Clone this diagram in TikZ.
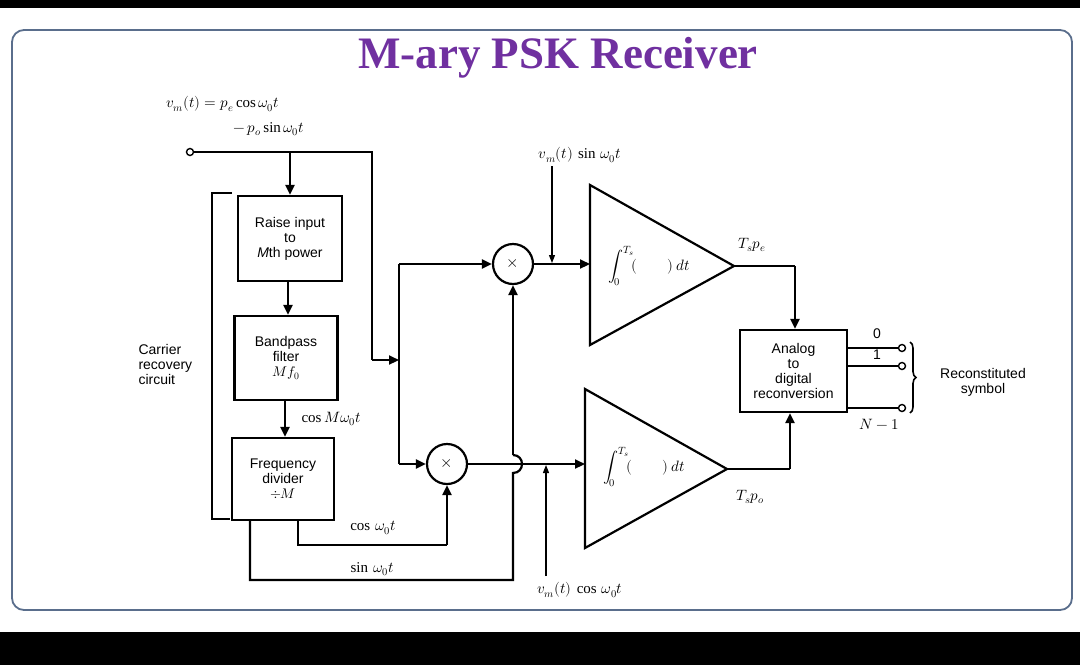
\documentclass[tikz,border=0pt]{standalone}
\usepackage{unicode-math}
\setmainfont{Liberation Serif}
\setmathfont{Latin Modern Math}
\newfontfamily\sansf{Liberation Sans}
\usetikzlibrary{arrows.meta,decorations.pathreplacing}
\definecolor{ttl}{RGB}{112,48,160}
\definecolor{frm}{RGB}{90,110,140}
\begin{document}
\begin{tikzpicture}[x=1pt,y=-1pt,
  ln/.style={line width=2.2pt},
  ar/.style={ln,-{Triangle[length=10pt,width=9pt]}},
  box/.style={draw,line width=2.2pt,font=\sansf\fontsize{14}{15}\selectfont,align=center,inner sep=0pt,minimum width=#1},
  mult/.style={draw,circle,line width=2.2pt,minimum size=40pt,inner sep=0pt,font=\fontsize{16}{16}\selectfont},
  term/.style={draw,circle,line width=1.4pt,minimum size=7pt,inner sep=0pt,fill=white},
  lab/.style={font=\fontsize{15}{16}\selectfont},
  sflab/.style={font=\sansf\fontsize{14}{15}\selectfont,align=center}]
\fill[black] (0,0) rectangle (1080,665);
\fill[white] (0,8) rectangle (1080,632);
\draw[frm,line width=1.8pt,rounded corners=12pt] (12,30) rectangle (1072,610);
\useasboundingbox (0,0) rectangle (1080,665);
\node[ttl,font=\bfseries\fontsize{45}{46}\selectfont] (title) at (558,58) {M-ary PSK Receiver};
\node[lab,anchor=west] (eq1) at (163,104) {$v_m(t)=p_e\cos\omega_0 t$};
\node[lab,anchor=west] (eq2) at (230,129) {$-\,p_o\sin\omega_0 t$};
% boxes
\node[box=104pt,minimum height=85pt] (b1) at (290,238.5) {Raise input\\to\\\textit{M}th power};
\node[box=103pt,minimum height=84pt] (b2) at (286,358) {Bandpass\\filter\\$Mf_0$};
\node[box=102pt,minimum height=82pt] (b3) at (283,479) {Frequency\\divider\\$\div M$};
\node[term] (in) at (190,152) {};
\coordinate (j1) at (290,152);
\coordinate (c1) at (372,152);
\coordinate (c2) at (372,360);
\coordinate (v1) at (399,360);
\draw[ln] (in) -- (j1) -- (c1) -- (c2);
\draw[ar] (c2) -- (v1);
\draw[ar] (j1) -- (b1.north);
\coordinate (a2) at (288,0);
\draw[ar] (a2 |- b1.south) -- (a2 |- b2.north);
\coordinate (a3) at (285,0);
\draw[ar] (a3 |- b2.south) -- (a3 |- b3.north);
\node[lab,anchor=west] (cm) at (298,419) {$\cos M\omega_0 t$};
% bracket
\draw[ln] (232,193) -- (212,193) -- (212,519) -- (230,519);
\node[sflab,align=left,anchor=west] (crc) at (135,364) {Carrier\\recovery\\circuit};
% multipliers
\node[mult] (m1) at (513,264) {$\times$};
\node[mult] (m2) at (447,464) {$\times$};
\coordinate (va) at (399,264);
\coordinate (vb) at (399,464);
\draw[ln] (va) -- (vb);
\draw[ar] (va) -- (m1.west);
\draw[ar] (vb) -- (m2.west);
% triangles
\coordinate (t1a) at (590,185); \coordinate (t1b) at (590,345); \coordinate (t1c) at (734,266);
\coordinate (t2a) at (585,389); \coordinate (t2b) at (585,548); \coordinate (t2c) at (727,469);
\draw[ln] (t1a) -- (t1c) -- (t1b) -- cycle;
\draw[ln] (t2a) -- (t2c) -- (t2b) -- cycle;
\node[lab] (i1) at (649,266) {$\displaystyle\int_0^{T_s}\!(\qquad)\,dt$};
\node[lab] (i2) at (644,467) {$\displaystyle\int_0^{T_s}\!(\qquad)\,dt$};
\coordinate (t1in) at (590,264);
\coordinate (t2in) at (585,464);
\draw[ar] (m1.east) -- (t1in);
\draw[ar] (m2.east) -- (t2in);
% injections
\node[lab] (sinl) at (580,155) {$v_m(t)\,\sin\,\omega_0 t$};
\node[lab] (cosl) at (580,590) {$v_m(t)\,\cos\,\omega_0 t$};
\coordinate (s1) at (552,166); \coordinate (s2) at (552,263);
\coordinate (k1) at (546,576); \coordinate (k2) at (546,465);
\draw[line width=1.3pt,-{Triangle[length=8pt,width=6pt]}] (s1) -- (s2);
\draw[line width=1.3pt,-{Triangle[length=8pt,width=6pt]}] (k1) -- (k2);
% cos / sin feedback
\coordinate (cA) at (298,520); \coordinate (cB) at (298,545); \coordinate (cC) at (447,545);
\draw[ln] (cA) -- (cB) -- (cC);
\draw[ar] (cC) -- (m2.south);
\node[lab] (cosw) at (373,528) {$\cos\,\omega_0 t$};
\coordinate (sA) at (250,520); \coordinate (sB) at (250,580);
\coordinate (sC) at (513,580);
\coordinate (h1) at (513,473);
\coordinate (h2) at (513,455);
\draw[ln] (sA) -- (sB) -- (sC) -- (h1) .. controls (525,473) and (525,455) .. (h2);
\draw[ar] (h2) -- (m1.south);
\node[lab] (sinw) at (372,569) {$\sin\,\omega_0 t$};
% ADC
\node[box=107pt,minimum height=82pt] (adc) at (793.5,371) {Analog\\to\\digital\\reconversion};
\coordinate (p1) at (795,266); \coordinate (p2) at (790,469);
\draw[ln] (t1c) -- (p1);
\draw[ar] (p1) -- (adc.north -| p1);
\draw[ln] (t2c) -- (p2);
\draw[ar] (p2) -- (adc.south -| p2);
\node[lab] (tpe) at (752,245) {$T_s p_e$};
\node[lab] (tpo) at (750,497) {$T_s p_o$};
% outputs
\node[term] (o0) at (902,348) {};
\node[term] (o1) at (902,366) {};
\node[term] (on) at (902,408) {};
\draw[ln] (adc.east |- o0) -- (o0);
\draw[ln] (adc.east |- o1) -- (o1);
\draw[ln] (adc.east |- on) -- (on);
\node[sflab] (l0) at (877,334) {0};
\node[sflab] (l1) at (877,355) {1};
\node[lab] (ln1) at (879,424) {$N-1$};
\draw[line width=1.6pt,decorate,decoration={brace,amplitude=6pt}] (910,342) -- (910,413);
\node[sflab] (rs) at (983,382) {Reconstituted\\symbol};
\end{tikzpicture}
\end{document}
